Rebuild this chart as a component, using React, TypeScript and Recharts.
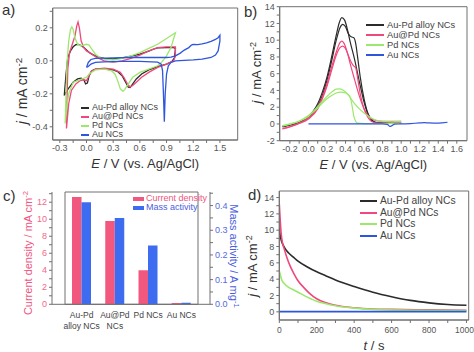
import React from 'react';
import { LineChart, Line, XAxis, YAxis, Legend, BarChart, Bar, ReferenceArea, Label } from 'recharts';

const FONT = 'Arial, "Liberation Sans", Helvetica, sans-serif';
const C_BLACK = '#2b2b2b';
const C_RED = '#f0487c';
const C_GREEN = '#9ce86c';
const C_BLUE = '#2f55dd';
const BAR_PINK = '#f2587e';
const BAR_BLUE = '#3d6cf0';
const AXIS = '#707070';
const TICK_TEXT = '#555';
const TITLE = '#333';

const seriesNames = ['Au-Pd alloy NCs', 'Au@Pd NCs', 'Pd NCs', 'Au NCs'];
const seriesColors = [C_BLACK, C_RED, C_GREEN, C_BLUE];

// ---------- panel a: cyclic voltammograms (E, j) ----------
const cvAlloy: [number, number][] = [
  [-0.25, -0.21], [-0.23, -0.08], [-0.21, 0.02], [-0.18, 0.06], [-0.15, 0.085], [-0.12, 0.098], [-0.09, 0.1],
  [-0.06, 0.092], [-0.03, 0.08], [0.0, 0.065], [0.03, 0.05], [0.06, 0.04], [0.1, 0.03], [0.15, 0.02], [0.2, 0.015],
  [0.3, 0.012], [0.4, 0.018], [0.5, 0.028], [0.6, 0.04], [0.7, 0.058], [0.75, 0.07], [0.8, 0.078], [0.9, 0.08],
  [0.98, 0.08], [1.0, 0.075], [0.99, 0.02], [0.96, -0.005], [0.9, -0.02], [0.8, -0.035], [0.7, -0.055], [0.62, -0.08],
  [0.56, -0.11], [0.52, -0.14], [0.49, -0.162], [0.47, -0.16], [0.44, -0.13], [0.4, -0.09], [0.35, -0.065],
  [0.3, -0.055], [0.2, -0.05], [0.1, -0.05], [0.06, -0.06], [0.03, -0.09], [0.01, -0.135], [-0.01, -0.14],
  [-0.03, -0.115], [-0.06, -0.105], [-0.1, -0.11], [-0.15, -0.13], [-0.2, -0.165], [-0.25, -0.21],
];
const cvCoreShell: [number, number][] = [
  [-0.225, -0.41], [-0.22, -0.25], [-0.21, -0.05], [-0.19, 0.05], [-0.16, 0.1], [-0.13, 0.15], [-0.11, 0.21],
  [-0.095, 0.235], [-0.08, 0.2], [-0.06, 0.12], [-0.03, 0.08], [0.0, 0.06], [0.05, 0.045], [0.1, 0.025], [0.2, 0.0],
  [0.3, -0.008], [0.4, 0.0], [0.5, 0.015], [0.6, 0.035], [0.7, 0.06], [0.8, 0.08], [0.9, 0.085], [1.0, 0.085],
  [1.0, 0.03], [0.98, 0.0], [0.9, -0.02], [0.8, -0.04], [0.7, -0.07], [0.62, -0.1], [0.56, -0.13], [0.52, -0.15],
  [0.49, -0.158], [0.46, -0.14], [0.42, -0.1], [0.38, -0.07], [0.3, -0.05], [0.2, -0.045], [0.1, -0.05],
  [0.05, -0.065], [0.02, -0.1], [0.0, -0.12], [-0.03, -0.115], [-0.07, -0.12], [-0.12, -0.14], [-0.17, -0.18],
  [-0.2, -0.26], [-0.225, -0.41],
];
const cvPd: [number, number][] = [
  [-0.24, -0.38], [-0.23, -0.2], [-0.22, -0.02], [-0.2, 0.12], [-0.18, 0.19], [-0.165, 0.205], [-0.15, 0.19],
  [-0.13, 0.14], [-0.1, 0.1], [-0.06, 0.09], [-0.03, 0.095], [0.0, 0.1], [0.03, 0.095], [0.06, 0.07], [0.1, 0.04],
  [0.15, 0.02], [0.2, 0.01], [0.3, 0.005], [0.4, 0.015], [0.5, 0.03], [0.6, 0.05], [0.7, 0.075], [0.8, 0.1],
  [0.9, 0.135], [1.0, 0.17], [0.95, 0.08], [0.9, 0.03], [0.85, -0.005], [0.8, -0.03], [0.7, -0.05], [0.6, -0.07],
  [0.52, -0.1], [0.47, -0.14], [0.43, -0.175], [0.41, -0.185], [0.38, -0.17], [0.35, -0.12], [0.32, -0.08],
  [0.28, -0.06], [0.2, -0.05], [0.1, -0.055], [0.03, -0.08], [0.0, -0.1], [-0.05, -0.11], [-0.1, -0.12],
  [-0.15, -0.13], [-0.2, -0.2], [-0.22, -0.28], [-0.24, -0.38],
];
const cvAu: [number, number][] = [
  [0.0, -0.04], [0.02, -0.01], [0.05, 0.008], [0.1, 0.015], [0.3, 0.018], [0.5, 0.02], [0.7, 0.02], [0.9, 0.02],
  [0.95, 0.022], [1.0, 0.03], [1.05, 0.045], [1.1, 0.065], [1.15, 0.08], [1.18, 0.095], [1.2, 0.1], [1.25, 0.098],
  [1.3, 0.102], [1.35, 0.108], [1.4, 0.118], [1.45, 0.13], [1.48, 0.14], [1.5, 0.155], [1.5, 0.12], [1.48, 0.06],
  [1.45, 0.035], [1.4, 0.02], [1.3, 0.01], [1.2, 0.005], [1.1, 0.003], [1.0, 0.0], [0.95, -0.01], [0.92, -0.03],
  [0.9, -0.08], [0.885, -0.2], [0.875, -0.37], [0.865, -0.2], [0.855, -0.06], [0.84, -0.02], [0.8, -0.008],
  [0.6, -0.004], [0.4, -0.004], [0.2, -0.006], [0.1, -0.01], [0.05, -0.02], [0.02, -0.035], [0.0, -0.04],
];
const cvXDomain = [-0.38, 1.7];
const cvYDomain = [-0.48, 0.32];
const cvXTicks = [-0.3, -0.15, 0, 0.15, 0.3, 0.45, 0.6, 0.75, 0.9, 1.05, 1.2, 1.35, 1.5];
const cvXLabels = [-0.3, 0, 0.3, 0.6, 0.9, 1.2, 1.5];
const cvYTicks = [-0.4, -0.3, -0.2, -0.1, 0, 0.1, 0.2, 0.3];
const cvYLabels = [-0.4, -0.2, 0, 0.2];

// ---------- panel b: ethanol oxidation scans (E, j) ----------
const eoAlloyA: [number, number][] = [
  [-0.28, -0.3], [-0.2, -0.1], [-0.15, 0.05], [-0.1, 0.2], [-0.05, 0.5], [0.0, 0.9], [0.05, 1.5], [0.1, 2.4],
  [0.15, 3.8], [0.2, 5.6], [0.25, 8.0], [0.3, 10.6], [0.33, 12.0], [0.36, 12.7], [0.39, 12.4], [0.42, 11.3],
  [0.45, 9.8], [0.5, 7.6], [0.55, 5.0], [0.6, 2.6], [0.64, 1.2], [0.68, 0.5], [0.72, 0.2], [0.8, 0.1], [0.9, 0.1], [1.0, 0.1],
];
const eoAlloyB: [number, number][] = [
  [-0.28, -0.35], [-0.2, -0.15], [-0.1, 0.15], [0.0, 0.8], [0.05, 1.3], [0.1, 2.1], [0.15, 3.4], [0.2, 5.2],
  [0.25, 7.5], [0.3, 10.0], [0.34, 11.5], [0.37, 11.9], [0.4, 11.6], [0.43, 10.8], [0.46, 10.4], [0.49, 10.3],
  [0.51, 9.6], [0.53, 8.0], [0.56, 5.5], [0.6, 3.0], [0.64, 1.3], [0.68, 0.5], [0.72, 0.2], [0.8, 0.1], [1.0, 0.1],
];
const eoCoreShellA: [number, number][] = [
  [-0.28, -0.55], [-0.2, -0.3], [-0.1, 0.1], [0.0, 0.7], [0.05, 1.2], [0.1, 2.0], [0.15, 3.2], [0.2, 4.8],
  [0.25, 6.8], [0.3, 8.6], [0.34, 9.7], [0.36, 9.9], [0.39, 9.5], [0.42, 8.5], [0.45, 7.2], [0.5, 5.2],
  [0.55, 3.3], [0.6, 1.8], [0.65, 0.9], [0.7, 0.5], [0.8, 0.3], [0.9, 0.3], [1.0, 0.3],
];
const eoCoreShellB: [number, number][] = [
  [-0.28, -0.6], [-0.2, -0.35], [-0.1, 0.05], [0.0, 0.6], [0.1, 1.8], [0.15, 3.0], [0.2, 4.5], [0.25, 6.4],
  [0.3, 8.2], [0.34, 9.1], [0.37, 9.3], [0.4, 9.0], [0.43, 8.2], [0.46, 7.4], [0.49, 6.9], [0.51, 6.7],
  [0.53, 5.5], [0.56, 3.5], [0.6, 1.8], [0.64, 0.8], [0.68, 0.3], [0.75, 0.1], [0.9, 0.1], [1.0, 0.15],
];
const eoPdA: [number, number][] = [
  [-0.28, -0.2], [-0.2, 0.0], [-0.1, 0.35], [0.0, 1.0], [0.05, 1.5], [0.1, 2.1], [0.15, 2.7], [0.2, 3.3],
  [0.25, 3.8], [0.3, 4.15], [0.34, 4.2], [0.38, 4.0], [0.42, 3.6], [0.46, 3.0], [0.5, 2.4], [0.55, 1.8],
  [0.6, 1.3], [0.65, 0.9], [0.7, 0.6], [0.8, 0.3], [0.9, 0.25], [1.0, 0.3],
];
const eoPdB: [number, number][] = [
  [-0.28, -0.25], [-0.2, -0.05], [-0.1, 0.3], [0.0, 0.9], [0.05, 1.4], [0.1, 1.9], [0.15, 2.5], [0.2, 3.0],
  [0.25, 3.4], [0.3, 3.7], [0.35, 3.8], [0.4, 3.7], [0.43, 3.5], [0.45, 3.2], [0.47, 2.2], [0.49, 0.9],
  [0.51, 0.3], [0.53, 0.1], [0.6, 0.05], [0.8, 0.05], [1.0, 0.1],
];
const eoAu: [number, number][] = [
  [0.0, 0.0], [0.2, 0.0], [0.4, 0.0], [0.6, 0.0], [0.8, 0.0], [0.85, -0.05], [0.88, -0.3], [0.9, -0.2],
  [0.93, -0.02], [1.0, 0.0], [1.1, 0.05], [1.2, 0.12], [1.25, 0.15], [1.3, 0.12], [1.4, 0.1], [1.5, 0.2],
];
const eoXDomain = [-0.31, 1.71];
const eoYDomain = [-2, 14];
const eoXTicks = [-0.2, -0.1, 0, 0.1, 0.2, 0.3, 0.4, 0.5, 0.6, 0.7, 0.8, 0.9, 1.0, 1.1, 1.2, 1.3, 1.4, 1.5, 1.6];
const eoXLabels = [-0.2, 0, 0.2, 0.4, 0.6, 0.8, 1.0, 1.2, 1.4, 1.6];
const eoYTicks = [-2, -1, 0, 1, 2, 3, 4, 5, 6, 7, 8, 9, 10, 11, 12, 13, 14];
const eoYLabels = [-2, 0, 2, 4, 6, 8, 10, 12, 14];

// ---------- panel c: bars ----------
const barCategories = ['Au-Pd alloy NCs', 'Au@Pd NCs', 'Pd NCs', 'Au NCs'];
const currentDensity = [12.6, 9.8, 4.0, 0.15];
const massActivity = [0.413, 0.35, 0.238, 0.006];
const cdTicks = [0, 1, 2, 3, 4, 5, 6, 7, 8, 9, 10, 11, 12, 13];
const cdLabels = [0, 2, 4, 6, 8, 10, 12];
const maTicks = [0, 0.05, 0.1, 0.15, 0.2, 0.25, 0.3, 0.35, 0.4, 0.45];
const maLabels = [0, 0.1, 0.2, 0.3, 0.4];
const barLegend = ['Current density', 'Mass activity'];

// ---------- panel d: chronoamperometry (t, j) ----------
const caAlloy: [number, number][] = [
  [0, 10.2], [5, 9.3], [10, 8.8], [20, 8.2], [35, 7.6], [50, 7.2], [75, 6.7], [100, 6.2], [150, 5.5], [200, 4.9],
  [250, 4.4], [300, 3.9], [400, 3.1], [500, 2.4], [600, 1.85], [700, 1.4], [800, 1.1], [900, 0.9], [1000, 0.8],
];
const caCoreShell: [number, number][] = [
  [0, 13.2], [3, 12], [6, 10.8], [10, 9.6], [15, 8.7], [25, 7.8], [40, 6.7], [60, 5.5], [80, 4.6], [100, 3.8],
  [130, 3.0], [160, 2.3], [200, 1.6], [250, 1.1], [300, 0.8], [400, 0.5], [500, 0.35], [600, 0.3], [800, 0.25], [1000, 0.2],
];
const caPd: [number, number][] = [
  [0, 5.0], [4, 4.7], [8, 4.3], [15, 3.8], [25, 3.5], [50, 3.0], [75, 2.7], [100, 2.4], [150, 1.8], [200, 1.3],
  [250, 1.0], [300, 0.75], [400, 0.45], [500, 0.3], [700, 0.2], [1000, 0.15],
];
const caAu: [number, number][] = [[0, 0.03], [200, 0.02], [400, 0.02], [600, 0.02], [800, 0.02], [1000, 0.02]];
const caXDomain = [0, 1012];
const caYDomain = [-1, 14.8];
const caXTicks = [0, 100, 200, 300, 400, 500, 600, 700, 800, 900, 1000];
const caXLabels = [0, 200, 400, 600, 800, 1000];
const caYTicks = [0, 1, 2, 3, 4, 5, 6, 7, 8, 9, 10, 11, 12, 13, 14];
const caYLabels = [0, 2, 4, 6, 8, 10, 12, 14];

// ---------- helpers ----------
const toPts = (arr: [number, number][]) => arr.map(([x, y]) => ({ x, y }));
const only = (labels: number[], digits: number) => (v: number) =>
  labels.some((l) => Math.abs(l - v) < 1e-9) ? v.toFixed(digits) : '';

const tickStyle = { fontSize: 9, fill: TICK_TEXT, fontFamily: FONT };

const xTitle = (body: React.ReactNode, dy: number, size = 13, color = TITLE) => (props: any) => {
  const vb = props.viewBox || {};
  return (
    <text x={vb.x + vb.width / 2} y={vb.y + dy} textAnchor="middle" fontSize={size} fill={color} fontFamily={FONT}>
      {body}
    </text>
  );
};
const yTitle = (body: React.ReactNode, dx: number, cy: number, size = 13, color = TITLE, angle = -90) => (props: any) => {
  const vb = props.viewBox || {};
  const x = vb.x + dx;
  const y = vb.y + cy;
  return (
    <text x={x} y={y} transform={`rotate(${angle}, ${x}, ${y})`} textAnchor="middle" fontSize={size} fill={color} fontFamily={FONT}>
      {body}
    </text>
  );
};

const jUnit = (
  <>
    <tspan fontStyle="italic">j</tspan>
    <tspan> / mA cm</tspan>
    <tspan dy={-5} fontSize="70%">-2</tspan>
  </>
);
const eTitle = (
  <>
    <tspan fontStyle="italic">E</tspan>
    <tspan> / V (vs. Ag/AgCl)</tspan>
  </>
);

const LineLegend = ({ fontSize, lineW, rowH, gap }: { fontSize: number; lineW: number; rowH: number; gap: number }) => (
  <div style={{ fontFamily: FONT, fontSize, color: '#444', lineHeight: `${rowH}px` }}>
    {seriesNames.map((n, i) => (
      <div key={n} style={{ display: 'flex', alignItems: 'center', height: rowH, whiteSpace: 'nowrap' }}>
        <span style={{ display: 'inline-block', width: lineW, height: 2, background: seriesColors[i], marginRight: gap }} />
        <span>{n}</span>
      </div>
    ))}
  </div>
);

const CatTick = (props: any) => {
  const { x, y, payload } = props;
  const s: string = String(payload.value);
  const sp = s.indexOf(' ');
  const lines = s.length > 6 && sp > 0 ? [s.slice(0, sp), s.slice(sp + 1)] : [s];
  return (
    <text x={x} y={y + 12} textAnchor="middle" fontSize={8.5} fill="#444" fontFamily={FONT}>
      {lines.map((l, i) => (
        <tspan key={i} x={x} dy={i === 0 ? 0 : 11}>
          {l}
        </tspan>
      ))}
    </text>
  );
};

// time-axis tick: keeps the last label inside the picture
const TimeTick = (props: any) => {
  const { x, y, payload, tickFormatter } = props;
  const txt = tickFormatter ? tickFormatter(payload.value) : String(payload.value);
  const last = payload.value === caXLabels[caXLabels.length - 1];
  return (
    <text x={last ? x - 2 : x} y={y + 8} textAnchor="middle" fontSize={8.5} fill={TICK_TEXT} fontFamily={FONT}>
      {txt}
    </text>
  );
};

const letterStyle: React.CSSProperties = {
  position: 'absolute',
  fontFamily: FONT,
  fontSize: 15,
  color: '#333',
  lineHeight: 1,
};

const axisCommon = {
  stroke: AXIS,
  tickSize: 3,
  interval: 0 as const,
  allowDataOverflow: true,
};

export default function App() {
  const cvSeries = [cvAlloy, cvCoreShell, cvPd, cvAu];
  const eoSeries: [[number, number][], number][] = [
    [eoAlloyA, 0], [eoAlloyB, 0], [eoCoreShellA, 1], [eoCoreShellB, 1], [eoPdA, 2], [eoPdB, 2], [eoAu, 3],
  ];
  const caSeries = [caAlloy, caCoreShell, caPd, caAu];
  const barData = barCategories.map((name, i) => ({ name, cd: currentDensity[i], ma: massActivity[i] }));

  return (
    <div style={{ position: 'absolute', left: 0, top: 0, width: 474, height: 352, background: '#fff', overflow: 'hidden' }}>
      {/* panel a */}
      <div style={{ position: 'absolute', left: 0, top: 0 }}>
        <LineChart width={245} height={176} margin={{ top: 8, right: 7.3, bottom: 0, left: 0 }}>
          <XAxis type="number" dataKey="x" domain={cvXDomain} ticks={cvXTicks} tickFormatter={only(cvXLabels, 1)}
            tick={tickStyle} height={36} {...axisCommon}>
            <Label content={xTitle(eTitle, 28)} />
          </XAxis>
          <YAxis type="number" dataKey="y" domain={cvYDomain} ticks={cvYTicks} tickFormatter={only(cvYLabels, 1)}
            tick={tickStyle} width={52.7} {...axisCommon}>
            <Label content={yTitle(jUnit, 27, 83, 14)} />
          </YAxis>
          <ReferenceArea y1={cvYDomain[0]} y2={cvYDomain[1]} fill="none" stroke={AXIS} />
          {cvSeries.map((s, i) => (
            <Line key={i} data={toPts(s)} dataKey="y" stroke={seriesColors[i]} strokeWidth={1.3} dot={false}
              type="linear" isAnimationActive={false} name={seriesNames[i]} />
          ))}
          <Legend layout="vertical" align="center" verticalAlign="middle"
            wrapperStyle={{ left: 81, top: 103, width: 'auto', height: 'auto' }}
            content={() => <LineLegend fontSize={9} lineW={8} rowH={9} gap={3} />} />
        </LineChart>
      </div>

      {/* panel b */}
      <div style={{ position: 'absolute', left: 237, top: 0 }}>
        <LineChart width={237} height={176} margin={{ top: 6.7, right: 7, bottom: 0, left: 0 }}>
          <XAxis type="number" dataKey="x" domain={eoXDomain} ticks={eoXTicks} tickFormatter={only(eoXLabels, 1)}
            tick={tickStyle} height={35.3} {...axisCommon}>
            <Label content={xTitle(eTitle, 28)} />
          </XAxis>
          <YAxis type="number" dataKey="y" domain={eoYDomain} ticks={eoYTicks} tickFormatter={only(eoYLabels, 0)}
            tick={tickStyle} width={42.7} {...axisCommon}>
            <Label content={yTitle(jUnit, 24, 66)} />
          </YAxis>
          <ReferenceArea y1={eoYDomain[0]} y2={eoYDomain[1]} fill="none" stroke={AXIS} />
          {eoSeries.map(([s, c], i) => (
            <Line key={i} data={toPts(s)} dataKey="y" stroke={seriesColors[c]} strokeWidth={1.2} dot={false}
              type="monotone" isAnimationActive={false} name={seriesNames[c]} />
          ))}
          <Legend layout="vertical" align="center" verticalAlign="middle"
            wrapperStyle={{ left: 129, top: 20, width: 'auto', height: 'auto' }}
            content={() => <LineLegend fontSize={9.3} lineW={18} rowH={10} gap={3} />} />
        </LineChart>
      </div>

      {/* panel c */}
      <div style={{ position: 'absolute', left: 0, top: 176 }}>
        <BarChart width={248} height={176} data={barData} margin={{ top: 16, right: 8, bottom: 0, left: 0 }}
          barGap={0} barSize={9.5}>
          <XAxis dataKey="name" type="category" height={47.7} padding={{ left: 13, right: 12 }} tickLine={false}
            tickSize={0} tick={<CatTick />} stroke={AXIS} interval={0} />
          <YAxis yAxisId="left" orientation="left" type="number" domain={[0, 13.2]} ticks={cdTicks}
            tickFormatter={only(cdLabels, 0)} tick={{ ...tickStyle, fill: '#f06a8a' }} width={52} {...axisCommon}>
            <Label content={yTitle(
              <>
                <tspan>Current density / mA cm</tspan>
                <tspan dy={-4} fontSize="70%">-2</tspan>
              </>, 32, 61, 11, '#f0557e')} />
          </YAxis>
          <YAxis yAxisId="right" orientation="right" type="number" domain={[0, 0.455]} ticks={maTicks}
            tickFormatter={only(maLabels, 1)} tick={{ ...tickStyle, fill: '#5569e0' }} width={30} {...axisCommon}>
            <Label content={yTitle(
              <>
                <tspan>Mass activity / A mg</tspan>
                <tspan dy={-4} fontSize="70%">-1</tspan>
              </>, 20, 64, 11, '#4a5ee0', 90)} />
          </YAxis>
          <ReferenceArea yAxisId="left" y1={0} y2={13.2} fill="none" stroke={AXIS} />
          <Bar yAxisId="left" dataKey="cd" fill={BAR_PINK} isAnimationActive={false} name={barLegend[0]} />
          <Bar yAxisId="right" dataKey="ma" fill={BAR_BLUE} isAnimationActive={false} name={barLegend[1]} />
          <Legend layout="vertical" align="center" verticalAlign="middle"
            wrapperStyle={{ left: 133, top: 18, width: 'auto', height: 'auto' }}
            content={() => (
              <div style={{ fontFamily: FONT, fontSize: 9, lineHeight: '9px' }}>
                {barLegend.map((n, i) => (
                  <div key={n} style={{ display: 'flex', alignItems: 'center', height: 9, whiteSpace: 'nowrap', color: i === 0 ? '#f0557e' : '#4a5ee0' }}>
                    <span style={{ display: 'inline-block', width: 11, height: 4, background: i === 0 ? BAR_PINK : BAR_BLUE, marginRight: 2 }} />
                    <span>{n}</span>
                  </div>
                ))}
              </div>
            )} />
        </BarChart>
      </div>

      {/* panel d */}
      <div style={{ position: 'absolute', left: 237, top: 176 }}>
        <LineChart width={237} height={176} margin={{ top: 15, right: 5.3, bottom: 0, left: 0 }}>
          <XAxis type="number" dataKey="x" domain={caXDomain} ticks={caXTicks} tickFormatter={only(caXLabels, 0)}
            tick={<TimeTick />} height={32} {...axisCommon}>
            <Label content={xTitle(
              <>
                <tspan fontStyle="italic">t</tspan>
                <tspan> / s</tspan>
              </>, 30)} />
          </XAxis>
          <YAxis type="number" dataKey="y" domain={caYDomain} ticks={caYTicks} tickFormatter={only(caYLabels, 0)}
            tick={tickStyle} width={42.3} {...axisCommon}>
            <Label content={yTitle(jUnit, 19.5, 75)} />
          </YAxis>
          <ReferenceArea y1={caYDomain[0]} y2={caYDomain[1]} fill="none" stroke={AXIS} />
          {caSeries.map((s, i) => (
            <Line key={i} data={toPts(s)} dataKey="y" stroke={seriesColors[i]} strokeWidth={1.6} dot={false}
              type="monotone" isAnimationActive={false} name={seriesNames[i]} />
          ))}
          <Legend layout="vertical" align="center" verticalAlign="middle"
            wrapperStyle={{ left: 123, top: 19, width: 'auto', height: 'auto' }}
            content={() => <LineLegend fontSize={10.3} lineW={17} rowH={11.7} gap={3} />} />
        </LineChart>
      </div>

      <div style={{ ...letterStyle, left: 2, top: 2 }}>a)</div>
      <div style={{ ...letterStyle, left: 244, top: 4 }}>b)</div>
      <div style={{ ...letterStyle, left: 3, top: 188 }}>c)</div>
      <div style={{ ...letterStyle, left: 248, top: 187 }}>d)</div>
    </div>
  );
}
